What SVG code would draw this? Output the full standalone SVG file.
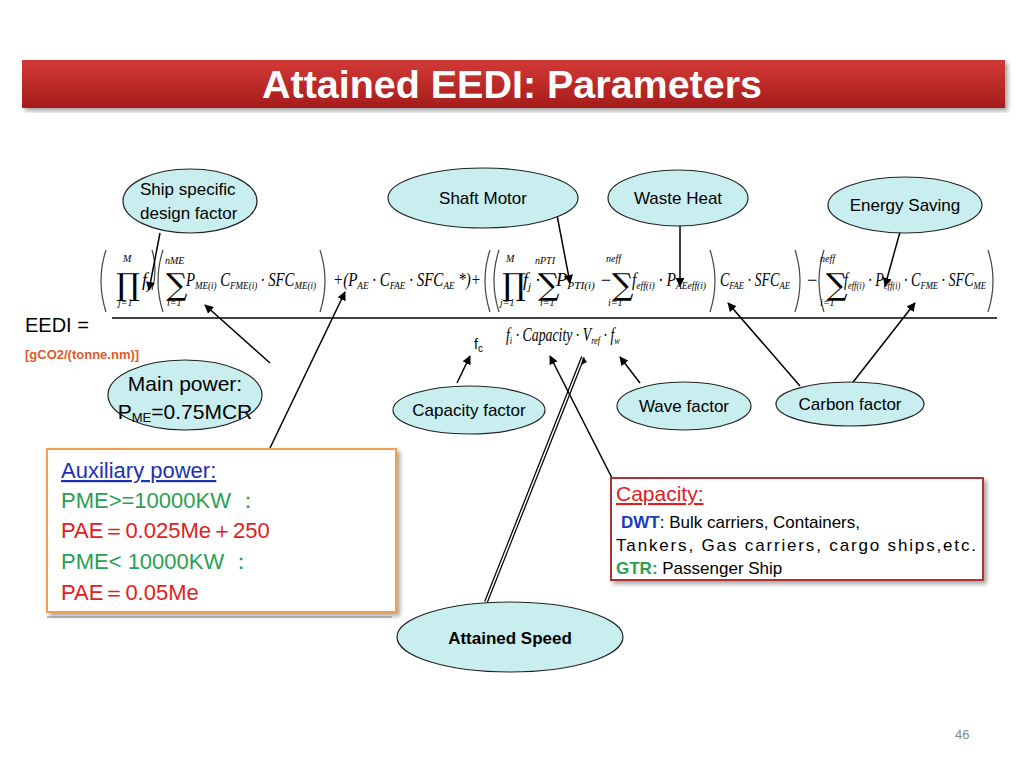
<svg xmlns="http://www.w3.org/2000/svg" width="1024" height="768" viewBox="0 0 1024 768">
<defs>
<linearGradient id="tg" x1="0" y1="0" x2="0" y2="1"><stop offset="0" stop-color="#d23a36"/><stop offset="1" stop-color="#a51c1c"/></linearGradient>
<marker id="ah" viewBox="0 0 10 10" refX="9" refY="5" markerWidth="9" markerHeight="9" orient="auto" markerUnits="userSpaceOnUse"><path d="M0,0L10,5L0,10z" fill="#000"/></marker>
<filter id="sh"><feDropShadow dx="3" dy="3" stdDeviation="2" flood-opacity="0.35"/></filter>
</defs>
<style>
.el{fill:#c9eef0;stroke:#222;stroke-width:1.2}
.nt{font-family:"Liberation Sans",Arial,sans-serif;font-size:17px;fill:#000}
.f{font-family:"Liberation Serif","Times New Roman",serif;font-style:italic;font-size:18px;fill:#000}
.s{font-family:"Liberation Serif","Times New Roman",serif;font-style:italic;font-size:10px;fill:#000}
.p{fill:none;stroke:#444;stroke-width:1.2}
.big{font-family:"DejaVu Serif",serif;font-size:30px;fill:#000}
.c{stroke:#000;stroke-width:1.5;fill:none;marker-end:url(#ah)}
.a{font-family:"Liberation Sans",Arial,sans-serif;font-size:22px}
</style>
<rect width="1024" height="768" fill="#fff"/>
<g id="title">
<rect x="22" y="60" width="983" height="48" fill="url(#tg)" filter="url(#sh)"/>
<text x="512" y="98" text-anchor="middle" font-family="Liberation Sans,Arial,sans-serif" font-size="38" font-weight="bold" fill="#fff" textLength="500" lengthAdjust="spacingAndGlyphs">Attained EEDI: Parameters</text>
</g>
<g id="formula">
<text x="25" y="332" font-family="Liberation Sans,Arial,sans-serif" font-size="20">EEDI =</text>
<text x="25" y="359" font-family="Liberation Sans,Arial,sans-serif" font-size="13" font-weight="bold" fill="#e05a2a">[gCO2/(tonne.nm)]</text>
<line x1="112" y1="318" x2="997" y2="318" stroke="#000" stroke-width="1.3"/>
<path class="p" d="M106,250Q96,281 106,312M163,250Q153,281 163,312M320,250Q330,281 320,312M490,250Q480,281 490,312M499,250Q489,281 499,312M710,250Q720,281 710,312M795,250Q805,281 795,312M824,250Q814,281 824,312M988,250Q998,281 988,312"/>
<path class="p" d="M152,250Q158,270 152,290"/>
<text class="big" x="116" y="295">∏</text><text class="s" x="123" y="262">M</text><text class="s" x="118" y="306">j=1</text>
<text class="f" x="142" y="286">f<tspan font-size="11" dy="4">j</tspan></text>
<text class="big" x="166" y="295">∑</text><text class="s" x="165" y="264">nME</text><text class="s" x="167" y="306">i=1</text>
<text class="f" x="186" y="286" textLength="130" lengthAdjust="spacingAndGlyphs">P<tspan font-size="11" dy="3">ME(i)</tspan><tspan dy="-3"> C</tspan><tspan font-size="11" dy="3">FME(i)</tspan><tspan dy="-3"> · SFC</tspan><tspan font-size="11" dy="3">ME(i)</tspan></text>
<text class="f" x="333" y="286" textLength="148" lengthAdjust="spacingAndGlyphs">+(P<tspan font-size="11" dy="3">AE</tspan><tspan dy="-3"> · C</tspan><tspan font-size="11" dy="3">FAE</tspan><tspan dy="-3"> · SFC</tspan><tspan font-size="11" dy="3">AE</tspan><tspan dy="-3"> *)+</tspan></text>
<text class="big" x="502" y="295">∏</text><text class="s" x="506" y="262">M</text><text class="s" x="500" y="306">j=1</text>
<text class="f" x="523" y="286">f<tspan font-size="11" dy="4">j</tspan><tspan dy="-4"> ·</tspan></text>
<text class="big" x="538" y="295">∑</text><text class="s" x="535" y="264">nPTI</text><text class="s" x="540" y="306">i=1</text>
<text class="f" x="556" y="286" textLength="56" lengthAdjust="spacingAndGlyphs">P<tspan font-size="11" dy="3">PTI(i)</tspan><tspan dy="-3"> −</tspan></text>
<text class="big" x="612" y="295">∑</text><text class="s" x="606" y="262">neff</text><text class="s" x="608" y="306">i=1</text>
<text class="f" x="632" y="286" textLength="74" lengthAdjust="spacingAndGlyphs">f<tspan font-size="11" dy="3">eff(i)</tspan><tspan dy="-3"> · P</tspan><tspan font-size="11" dy="3">AEeff(i)</tspan></text>
<text class="f" x="720" y="286" textLength="70" lengthAdjust="spacingAndGlyphs">C<tspan font-size="11" dy="3">FAE</tspan><tspan dy="-3"> · SFC</tspan><tspan font-size="11" dy="3">AE</tspan></text>
<text class="f" x="806" y="286">−</text>
<text class="big" x="826" y="295">∑</text><text class="s" x="820" y="262">neff</text><text class="s" x="820" y="306">i=1</text>
<text class="f" x="844" y="286" textLength="142" lengthAdjust="spacingAndGlyphs">f<tspan font-size="11" dy="3">eff(i)</tspan><tspan dy="-3"> · P</tspan><tspan font-size="11" dy="3">eff(i)</tspan><tspan dy="-3"> · C</tspan><tspan font-size="11" dy="3">FME</tspan><tspan dy="-3"> · SFC</tspan><tspan font-size="11" dy="3">ME</tspan></text>
<text class="f" x="506" y="341" textLength="114" lengthAdjust="spacingAndGlyphs">f<tspan font-size="11" dy="3">i</tspan><tspan dy="-3"> · Capacity · V</tspan><tspan font-size="11" dy="3">ref</tspan><tspan dy="-3"> · f</tspan><tspan font-size="11" dy="3">w</tspan></text>
<text x="474" y="349" font-family="Liberation Sans,Arial,sans-serif" font-size="14">f<tspan font-size="10" dy="3">c</tspan></text>
</g>
<g id="connectors">
<path class="c" d="M160,233L149,290"/>
<path class="c" d="M557,215L570,283"/>
<path class="c" d="M680,225L680,286"/>
<path class="c" d="M900,232L885,286"/>
<path class="c" d="M270,363L205,305"/>
<path class="c" d="M270,448L345,292"/>
<path class="c" d="M457,383L470,356"/>
<path d="M486,602L583,357" stroke="#000" stroke-width="4" fill="none"/>
<path d="M486,602L583,357" stroke="#fff" stroke-width="1.5" fill="none"/>
<path d="M583,357l-2,8l6,-3z" fill="#000"/>
<path class="c" d="M640,383L620,357"/>
<path class="c" d="M612,478L550,356"/>
<path class="c" d="M800,386L728,303"/>
<path class="c" d="M850,386L915,303"/>
</g>
<g id="n-ship"><ellipse class="el" cx="190" cy="201" rx="67" ry="32"/><text class="nt" x="140" y="195">Ship specific</text><text class="nt" x="140" y="219">design factor</text></g>
<g id="n-shaft"><ellipse class="el" cx="483" cy="198" rx="95" ry="30"/><text class="nt" x="483" y="204" text-anchor="middle">Shaft Motor</text></g>
<g id="n-waste"><ellipse class="el" cx="678" cy="198" rx="70" ry="28"/><text class="nt" x="678" y="204" text-anchor="middle">Waste Heat</text></g>
<g id="n-energy"><ellipse class="el" cx="905" cy="205" rx="77" ry="28"/><text class="nt" x="905" y="211" text-anchor="middle">Energy Saving</text></g>
<g id="n-main"><ellipse class="el" cx="185" cy="395" rx="77" ry="35"/><text x="185" y="391" text-anchor="middle" font-family="Liberation Sans,Arial,sans-serif" font-size="21">Main power:</text><text x="185" y="419" text-anchor="middle" font-family="Liberation Sans,Arial,sans-serif" font-size="21">P<tspan font-size="13" dy="3">ME</tspan><tspan dy="-3">=0.75MCR</tspan></text></g>
<g id="n-capf"><ellipse class="el" cx="469" cy="410" rx="76" ry="24"/><text class="nt" x="469" y="416" text-anchor="middle">Capacity factor</text></g>
<g id="n-wave"><ellipse class="el" cx="684" cy="406" rx="67" ry="24"/><text class="nt" x="684" y="412" text-anchor="middle">Wave factor</text></g>
<g id="n-carbon"><ellipse class="el" cx="850" cy="404" rx="74" ry="22"/><text class="nt" x="850" y="410" text-anchor="middle">Carbon factor</text></g>
<g id="n-speed"><ellipse class="el" cx="510" cy="637" rx="113" ry="35"/><text x="510" y="644" text-anchor="middle" font-family="Liberation Sans,Arial,sans-serif" font-size="17" font-weight="bold">Attained Speed</text></g>
<g id="n-aux">
<line x1="47" y1="617" x2="392" y2="617" stroke="#888"/>
<rect x="47" y="449" width="349" height="163" fill="#fff" stroke="#f0a050" stroke-width="2" filter="url(#sh)"/>
<text class="a" x="61" y="478" fill="#2030b0" text-decoration="underline">Auxiliary power:</text>
<text class="a" x="61" y="508" fill="#2aa050">PME&gt;=10000KW ：</text>
<text class="a" x="61" y="538" fill="#e02020">PAE＝0.025Me＋250</text>
<text class="a" x="61" y="569" fill="#2aa050">PME&lt; 10000KW ：</text>
<text class="a" x="61" y="600" fill="#e02020">PAE＝0.05Me</text>
</g>
<g id="n-capacity">
<rect x="611" y="478" width="372" height="102" fill="#fff" stroke="#b03030" stroke-width="2" filter="url(#sh)"/>
<text x="616" y="501" font-family="Liberation Sans,Arial,sans-serif" font-size="21" fill="#e02020" text-decoration="underline">Capacity:</text>
<text x="621" y="528" font-family="Liberation Sans,Arial,sans-serif" font-size="17"><tspan font-weight="bold" fill="#1a3cc0">DWT</tspan>: Bulk  carriers,  Containers,</text>
<text x="616" y="551" font-family="Liberation Sans,Arial,sans-serif" font-size="17" textLength="360" lengthAdjust="spacing">Tankers,  Gas  carriers,  cargo  ships,etc.</text>
<text x="616" y="574" font-family="Liberation Sans,Arial,sans-serif" font-size="17"><tspan font-weight="bold" fill="#2aa050">GTR:</tspan> Passenger  Ship</text>
</g>
<text x="955" y="739" font-family="Liberation Sans,Arial,sans-serif" font-size="13" fill="#888">46</text>
</svg>
